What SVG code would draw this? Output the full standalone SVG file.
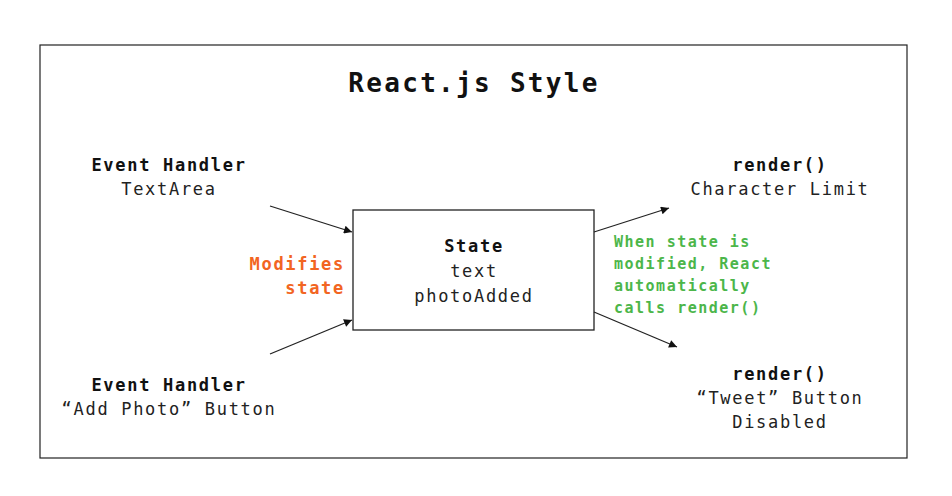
<svg xmlns="http://www.w3.org/2000/svg" width="952" height="496" viewBox="0 0 952 496">
<style>
text{font-family:"DejaVu Sans Mono",monospace;font-size:17px;letter-spacing:1.7px;fill:#222;text-anchor:middle}
.b{font-weight:bold;fill:#111}
.t{font-size:26px;letter-spacing:2.3px}
.o{font-weight:bold;fill:#f26522;text-anchor:end}
.g{font-weight:bold;fill:#4cb64a;text-anchor:start;font-size:15px;letter-spacing:1.5px}
.c{stroke:#222;stroke-width:1.3;fill:none;marker-end:url(#a)}
</style>
<defs><marker id="a" viewBox="0 0 10 10" refX="10" refY="5" markerWidth="10" markerHeight="8" markerUnits="userSpaceOnUse" orient="auto"><path d="M0,0L10,5L0,10z" fill="#111"/></marker></defs>
<rect width="952" height="496" fill="#fff"/>
<rect x="40" y="45" width="867" height="413" fill="none" stroke="#222" stroke-width="1.2"/>
<text x="474" y="92" class="b t">React.js Style</text>
<g id="eh1"><text x="169" y="171" class="b">Event Handler</text><text x="169" y="195">TextArea</text></g>
<g id="eh2"><text x="169" y="391" class="b">Event Handler</text><text x="169" y="415">“Add Photo” Button</text></g>
<g id="state"><rect x="353" y="210" width="241" height="120" fill="#fff" stroke="#222" stroke-width="1.3"/><text x="474" y="252" class="b">State</text><text x="474" y="277">text</text><text x="474" y="302">photoAdded</text></g>
<g id="r1"><text x="780" y="171" class="b">render()</text><text x="780" y="195">Character Limit</text></g>
<g id="r2"><text x="780" y="380" class="b">render()</text><text x="780" y="404">“Tweet” Button</text><text x="780" y="428">Disabled</text></g>
<g id="labels"><text x="345" y="270" class="o">Modifies</text><text x="345" y="294" class="o">state</text>
<text x="614" y="247" class="g">When state is</text><text x="614" y="269" class="g">modified, React</text><text x="614" y="291" class="g">automatically</text><text x="614" y="313" class="g">calls render()</text></g>
<g id="connectors">
<path class="c" d="M270,206L352,232"/><path class="c" d="M270,354L352,320"/>
<path class="c" d="M594,232L669,208"/><path class="c" d="M594,312L677,347"/>
</g>
</svg>
